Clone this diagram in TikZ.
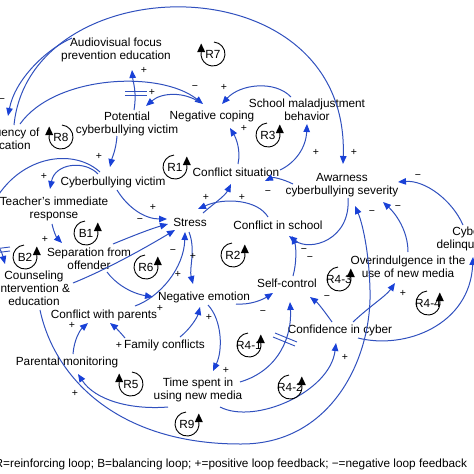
\documentclass[tikz,border=0pt]{standalone}
\usepackage{fontspec}
\setmainfont{Liberation Sans}
\usetikzlibrary{arrows.meta,calc}
\definecolor{linec}{RGB}{48,80,190}
\definecolor{tipc}{RGB}{25,65,215}
\tikzset{
  var/.style={inner sep=0.5pt, align=center, font=\fontsize{11.8}{13}\selectfont},
  link/.style={draw=linec, line width=1pt, -{Triangle[length=8pt,width=6.5pt,color=tipc]}},
  pol/.style={inner sep=0pt, font=\fontsize{10.5}{11}\selectfont},
  loopline/.style={draw=black, line width=0.9pt},
  looplab/.style={inner sep=0pt, font=\fontsize{11.8}{13}\selectfont},
  delaymark/.style={draw=linec, line width=0.9pt},
}
\newcommand{\cldloopR}[3]{%
  \draw[loopline] (#1) ++(265:12) arc[start angle=265,end angle=-12,radius=12];
  \fill (#1) ++(7.8,-2) -- ++(8,0) -- ++(-4,-8.5) -- cycle;
  \node[looplab] (#3) at (#1) {#2};}
\newcommand{\cldloopL}[3]{%
  \draw[loopline] (#1) ++(-85:12) arc[start angle=-85,end angle=192,radius=12];
  \fill (#1) ++(-15.8,-2) -- ++(8,0) -- ++(-4,-8.5) -- cycle;
  \node[looplab] (#3) at (#1) {#2};}
\begin{document}
\begin{tikzpicture}[x=1pt,y=-1pt]
\useasboundingbox (0,0) rectangle (474,474);
\clip (0,0) rectangle (474,474);
% variables
\node[var] (av) at (116,50) {Audiovisual focus\\prevention education};
\node[var] (freq) at (5,138.5) {Frequency of\\education};
\node[var] (pot) at (127,123.5) {Potential\\cyberbullying victim};
\node[var] (nc) at (212,116) {Negative coping};
\node[var] (sm) at (307,109.5) {School maladjustment\\behavior};
\node[var] (cs) at (236,172) {Conflict situation};
\node[var] (aw) at (342,185.5) {Awarness\\cyberbullying severity};
\node[var] (cv) at (113,182) {Cyberbullying victim};
\node[var] (tr) at (54,208.5) {Teacher's immediate\\response};
\node[var] (st) at (190,222) {Stress};
\node[var] (ci) at (278,225) {Conflict in school};
\node[var] (sep) at (89,258.5) {Separation from\\offender};
\node[var] (cou) at (34,288.5) {Counseling\\intervention \&\\education};
\node[var] (ne) at (204,297) {Negative emotion};
\node[var] (sc) at (287,283) {Self-control};
\node[var] (ov) at (408,266.5) {Overindulgence in the\\use of new media};
\node[var] (cd) at (468,238.5) {Cyber\\delinquency};
\node[var] (cc) at (340,330) {Confidence in cyber};
\node[var] (cp) at (104,315) {Conflict with parents};
\node[var] (fc) at (164.5,345) {Family conflicts};
\node[var] (pm) at (67,362) {Parental monitoring};
\node[var] (ts) at (198,390) {Time spent in\\using new media};
% connectors
\draw[link] ($(freq)+(9,-13.5)$) .. controls (30,-35) and (350,-40) .. ($(aw)+(1,-21.5)$);
\draw[link] ($(av)+(-44,-12)$) .. controls (45,50) and (15,80) .. ($(freq)+(3,-22.5)$);
\draw[link] ($(freq)+(15,-14.5)$) .. controls (55,75) and (160,70) .. ($(nc)+(-9,-12)$);
\draw[link] ($(pot)+(7,-13.5)$) .. controls (137,92) and (133,82) .. ($(av)+(16,20)$);
\draw[link] ($(nc)+(-13,-14)$) .. controls (185,92) and (162,92) .. ($(pot)+(19,-17.5)$);
\draw[link] ($(sm)+(-16,-12.5)$) .. controls (275,80) and (240,84) .. ($(nc)+(10,-12)$);
\draw[link] ($(cs)+(2,-8)$) .. controls (241,150) and (236,138) .. ($(nc)+(18,12)$);
\draw[link] ($(cs)+(44,-2)$) .. controls (295,163) and (306,148) .. ($(sm)+(0,14.5)$);
\draw[link] ($(aw)+(-49,-1.5)$) .. controls (283,179) and (273,177) .. ($(cs)+(29,9)$);
\draw[link] ($(st)+(13,-9)$) .. controls (212,205) and (225,196) .. ($(cs)+(-5,12)$);
\draw[link] ($(ci)+(-10,-8)$) .. controls (258,200) and (225,197) .. ($(st)+(8,-13)$);
\draw[link] ($(cv)+(-15,-8)$) .. controls (85,160) and (55,163) .. ($(tr)+(-4,-19.5)$);
\draw[link] ($(cv)+(-13,-10)$) .. controls (70,145) and (10,158) .. (-12,215)
   .. controls (-12,235) and (0,245) .. ($(cou)+(-29,-24.5)$);
\draw[link] ($(pot)+(-10,12.5)$) .. controls (116,150) and (112,158) .. ($(cv)+(-3,-15)$);
\draw[link] ($(cv)+(4,8)$) .. controls (128,208) and (145,219) .. ($(st)+(-23,-3)$);
\draw[link] ($(tr)+(-2,15.5)$) .. controls (54,233) and (57,238) .. ($(sep)+(-27,-15.5)$);
\draw[link] ($(sep)+(24,-14.5)$) .. controls (130,237) and (150,229) .. ($(st)+(-22,2)$);
\draw[link] ($(cou)+(39,-5.5)$) .. controls (110,268) and (150,245) .. ($(st)+(-15,8)$);
\draw[link] ($(sep)+(18,13.5)$) .. controls (115,283) and (130,293) .. ($(ne)+(-51,0)$);
\draw[link] ($(cp)+(31,-9)$) .. controls (160,297) and (184,268) .. ($(st)+(-5,10)$);
\draw[link] ($(st)+(-1,10)$) .. controls (196,250) and (189,268) .. ($(ne)+(-11,-13)$);
\draw[link] ($(fc)+(15.5,-8)$) .. controls (190,329) and (197,318) .. ($(ne)+(-4,10)$);
\draw[link] ($(ne)+(4,8)$) .. controls (222,320) and (223,350) .. ($(ts)+(15,-19)$);
\draw[link] ($(fc)+(-39.5,-7)$) .. controls (120,332) and (115,327) .. ($(cp)+(6,8)$);
\draw[link] ($(pm)+(6,-8)$) .. controls (74,340) and (80,330) .. ($(cp)+(-16,8)$);
\draw[link] ($(ts)+(-30,17)$) .. controls (130,410) and (95,400) .. ($(pm)+(11,12)$);
\draw[link] ($(cou)+(6,21.5)$) .. controls (55,380) and (120,444) .. (240,444)
   .. controls (330,445) and (372,360) .. (370,290)
   .. controls (369,250) and (362,222) .. ($(aw)+(13,20.5)$);
\draw[link] ($(ts)+(22,17)$) .. controls (255,425) and (330,392) .. ($(cc)+(-4,13)$);
\draw[link] ($(ts)+(42,-8)$) .. controls (280,370) and (292,335) .. ($(sc)+(3,19)$);
\draw[link] ($(cc)+(-8,-8)$) .. controls (325,312) and (318,303) .. ($(sc)+(23,14)$);
\draw[link] ($(ne)+(32,7)$) .. controls (250,305) and (262,300) .. ($(sc)+(-14,10)$);
\draw[link] ($(sc)+(6,-7)$) .. controls (297,262) and (296,246) .. ($(ci)+(14,11)$);
\draw[link] ($(aw)+(6,12.5)$) .. controls (351,240) and (310,252) .. ($(ci)+(11,11)$);
\draw[link] ($(ov)+(0,-14.5)$) .. controls (408,230) and (395,213) .. ($(aw)+(41,16.5)$);
\draw[link] ($(cd)+(-5,-13.5)$) .. controls (452,200) and (425,180) .. ($(aw)+(56,-3.5)$);
\draw[link] ($(cc)+(13,-8)$) .. controls (370,306) and (386,296) .. ($(ov)+(-13,16.5)$);
\draw[link] ($(cc)+(18,8)$) .. controls (405,350) and (470,325) .. ($(cd)+(5,18.5)$);
% delay marks
\draw[delaymark] (125,91) -- (147,91) (125,95) -- (147,95);
\draw[delaymark] (275,333) -- (297,342) (273,337) -- (295,346);
\draw[delaymark] (-6,249) -- (10,247) (-6,253) -- (10,251);
% loop markers
\cldloopL{213,54}{R7}{lR7}
\cldloopL{61,137}{R8}{lR8}
\cldloopR{268,135}{R3}{lR3}
\cldloopR{175,167}{R1}{lR1}
\cldloopR{86,233}{B1}{lB1}
\cldloopR{25,257}{B2}{lB2}
\cldloopR{146,267}{R6}{lR6}
\cldloopR{233,255}{R2}{lR2}
\cldloopR{339,279}{R4-3}{lR43}
\cldloopR{428,303}{R4-4}{lR44}
\cldloopR{249,345}{R4-1}{lR41}
\cldloopR{290,387}{R4-2}{lR42}
\cldloopL{131,384}{R5}{lR5}
\cldloopR{187,424}{R9}{lR9}
% polarity labels
\node[pol] (p1) at (144,70) {+};
\node[pol] (p2) at (152,92) {+};
\node[pol] (p3) at (195,88) {−};
\node[pol] (p4) at (224,87) {+};
\node[pol] (p5) at (2,101) {−};
\node[pol] (p6) at (244,128) {+};
\node[pol] (p7) at (316,152) {+};
\node[pol] (p8) at (354,152) {+};
\node[pol] (p9) at (268,193) {−};
\node[pol] (p10) at (206,197) {+};
\node[pol] (p11) at (242,197) {+};
\node[pol] (p12) at (99,156) {+};
\node[pol] (p13) at (44,176) {+};
\node[pol] (p14) at (153,207) {+};
\node[pol] (p15) at (140,221) {−};
\node[pol] (p16) at (45,239) {+};
\node[pol] (p17) at (173,252) {−};
\node[pol] (p18) at (193,256) {+};
\node[pol] (p19) at (178,274) {+};
\node[pol] (p20) at (160,308) {+};
\node[pol] (p21) at (119,345) {+};
\node[pol] (p22) at (209,317) {+};
\node[pol] (p23) at (72,325) {+};
\node[pol] (p24) at (75,393) {+};
\node[pol] (p25) at (226,370) {+};
\node[pol] (p26) at (263,313) {−};
\node[pol] (p27) at (327,298) {−};
\node[pol] (p28) at (304,251) {−};
\node[pol] (p29) at (310,259) {−};
\node[pol] (p30) at (372,213) {−};
\node[pol] (p31) at (398,208) {−};
\node[pol] (p32) at (418,177) {−};
\node[pol] (p33) at (403,293) {+};
\node[pol] (p34) at (345,357) {+};
% legend
\node[anchor=base west, inner sep=0pt, font=\fontsize{11.8}{13}\selectfont] (legend) at (-5.5,467)
  {R=reinforcing loop; B=balancing loop; +=positive loop feedback; −=negative loop feedback};
\end{tikzpicture}
\end{document}
